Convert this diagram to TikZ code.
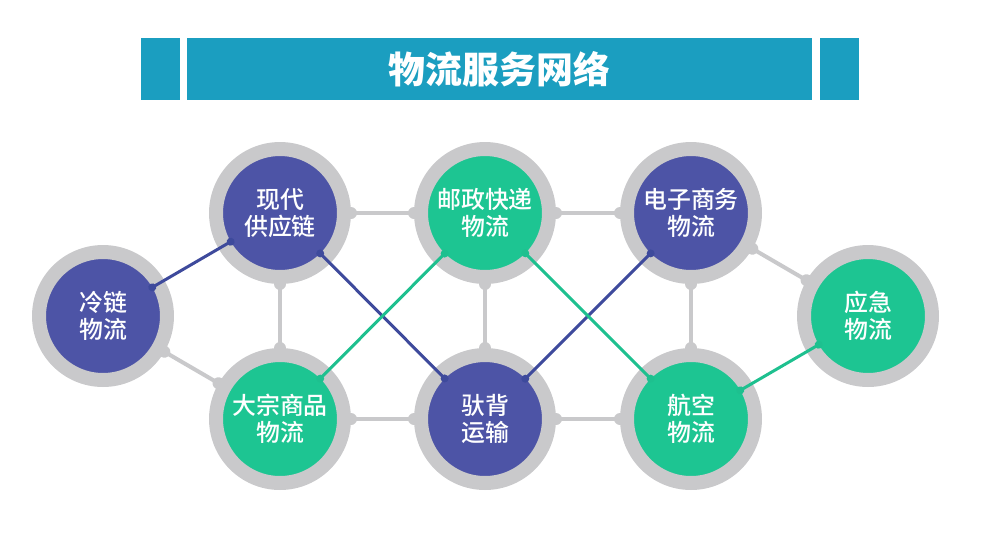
\documentclass[tikz,border=0pt]{standalone}
\usepackage{fontspec}
\setmainfont{Noto Sans CJK SC}
\newfontfamily\hubfont{Noto Sans CJK SC Medium}
\usepackage{tikz}
\usetikzlibrary{positioning, backgrounds, decorations.markings}

\definecolor{barteal}{HTML}{1B9EC0}
\definecolor{ringgrey}{HTML}{C9C9CB}
\definecolor{hubpurple}{HTML}{4D54A6}
\definecolor{hubgreen}{HTML}{1DC592}
\definecolor{linkpurple}{HTML}{3E4A9C}
\definecolor{linkgreen}{HTML}{1EC08F}

\tikzset{
    titlebar/.style={fill=barteal, minimum height=1.24cm, inner sep=0pt, text=white,
        font=\fontsize{21}{24}\selectfont\bfseries},
    hub/.style={circle, draw=ringgrey, line width=0.28cm, minimum size=2.56cm,
        outer sep=-0.14cm, inner sep=0pt, text=white, align=center,
        font=\fontsize{13.6}{15.6}\selectfont\hubfont},
    greylink/.style={draw=ringgrey, line width=0.08cm, postaction={decorate},
        decoration={markings,
            mark=at position 0.28cm with {\fill[ringgrey] (0,0) circle (0.12cm);},
            mark=at position -0.28cm with {\fill[ringgrey] (0,0) circle (0.12cm);}}},
    link/.style={draw=#1, line width=0.06cm, postaction={decorate},
        decoration={markings,
            mark=at position 0 with {\fill[#1] (0,0) circle (0.08cm);},
            mark=at position 1 with {\fill[#1] (0,0) circle (0.08cm);}}}
}

\begin{document}
\begin{tikzpicture}[x=0.02cm, y=-0.02cm]
        \useasboundingbox (0, 0) rectangle (1000, 532);

        % title bar
        \node[titlebar, minimum width=12.5cm] (title) at (499.5, 69) {物流服务网络};
        \node[titlebar, minimum width=0.78cm, left=0.12cm of title] (titleL) {};
        \node[titlebar, minimum width=0.78cm, right=0.14cm of title] (titleR) {};

        % hubs
        \node[hub, fill=hubpurple] (lenglian) at (103, 316) {冷链\\物流};
        \node[hub, fill=hubpurple] (gongying) at (280, 213) {现代\\供应链};
        \node[hub, fill=hubgreen] (dazong) at (280, 419) {大宗商品\\物流};
        \node[hub, fill=hubgreen] (youzheng) at (485, 213) {邮政快递\\物流};
        \node[hub, fill=hubpurple] (tuobei) at (485, 419) {驮背\\运输};
        \node[hub, fill=hubpurple] (dianshang) at (691, 213) {电子商务\\物流};
        \node[hub, fill=hubgreen] (hangkong) at (691, 419) {航空\\物流};
        \node[hub, fill=hubgreen] (yingji) at (868, 316) {应急\\物流};

        \begin{scope}[on background layer]
            \draw[greylink] (lenglian) to (dazong);
            \draw[greylink] (gongying) to (dazong);
            \draw[greylink] (gongying) to (youzheng);
            \draw[greylink] (dazong) to (tuobei);
            \draw[greylink] (youzheng) to (tuobei);
            \draw[greylink] (youzheng) to (dianshang);
            \draw[greylink] (tuobei) to (hangkong);
            \draw[greylink] (dianshang) to (hangkong);
            \draw[greylink] (dianshang) to (yingji);
        \end{scope}

        \draw[link=linkpurple] (lenglian) to (gongying);
        \draw[link=linkpurple] (gongying) to (tuobei);
        \draw[link=linkpurple] (tuobei) to (dianshang);
        \draw[link=linkgreen] (dazong) to (youzheng);
        \draw[link=linkgreen] (youzheng) to (hangkong);
        \draw[link=linkgreen] (hangkong) to (yingji);
    \end{tikzpicture}
\end{document}
